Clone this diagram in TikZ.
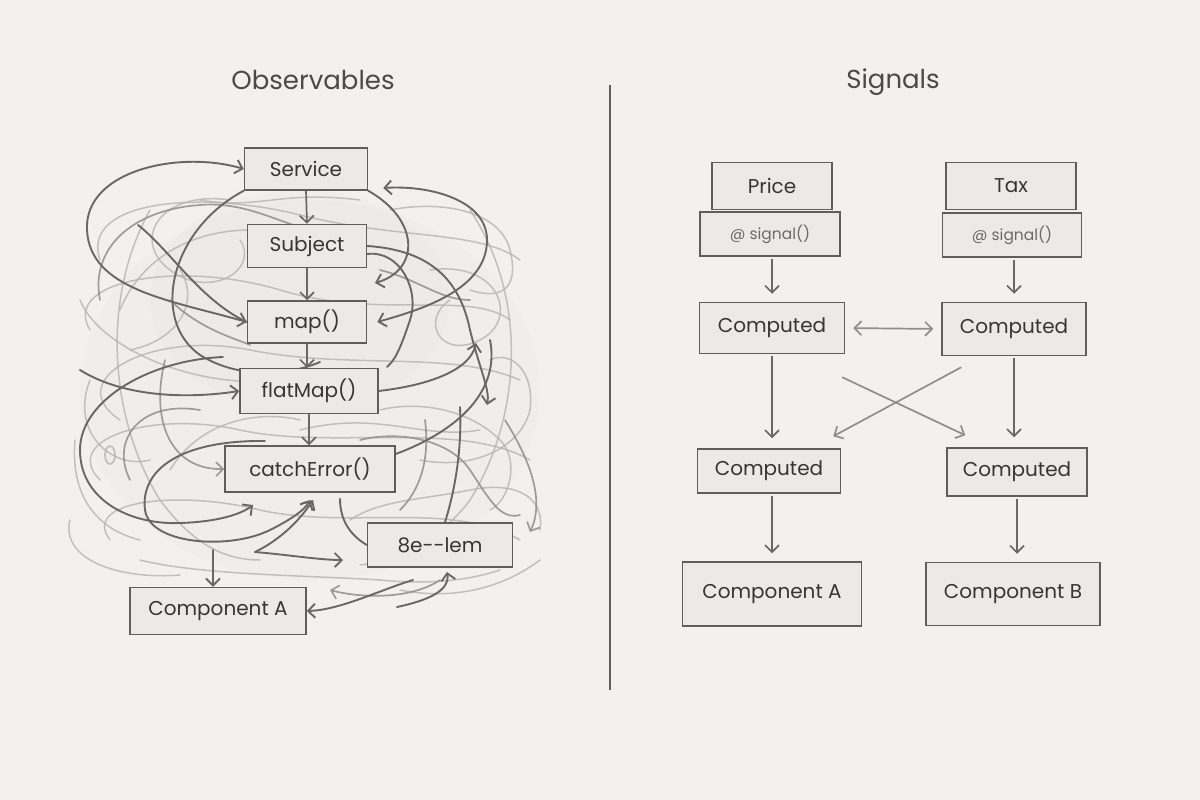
\documentclass[tikz,border=0pt]{standalone}
\usepackage{fontspec}
\setmainfont{Poppins}
\usetikzlibrary{arrows.meta,calc}
\definecolor{bgc}{HTML}{F2F1EE}
\definecolor{boxfill}{HTML}{EBEAE7}
\definecolor{boxline}{HTML}{5E5E5E}
\definecolor{txt}{HTML}{363636}
\definecolor{dkc}{HTML}{686868}
\definecolor{mdc}{HTML}{8E8E8E}
\definecolor{ltc}{HTML}{B4B4B4}
\pgfdeclarelayer{bottomlayer}
\pgfdeclarelayer{tanglelayer}
\pgfsetlayers{bottomlayer,tanglelayer,main}
\tikzset{
  box/.style={draw=boxline, fill=boxfill, line width=1.5pt, text=txt, inner sep=2pt,
    font=\fontsize{20}{23}\selectfont},
  sigbox/.style={box, text=mdc!75!black, font=\fontsize{15.5}{18}\selectfont},
  ttl/.style={text=txt!90, font=\fontsize{26}{30}\selectfont},
  barb/.tip={Straight Barb[length=7pt,width=14pt]},
  arr/.style={draw=dkc, line width=1.7pt, -barb},
  darr/.style={draw=mdc, line width=1.7pt, barb-barb},
  dk/.style={draw=dkc, line width=1.9pt, line cap=round},
  md/.style={draw=mdc, line width=1.7pt, line cap=round, opacity=0.85},
  lt/.style={draw=ltc, line width=1.5pt, line cap=round, opacity=0.8},
  tip/.style={-barb},
  tips/.style={barb-barb}
}
\begin{document}
\begin{tikzpicture}[x=1pt,y=-1pt]
\begin{pgfonlayer}{bottomlayer}
\fill[bgc] (0,0) rectangle (1200,800);
\fill[gray, opacity=0.025] (310,390) ellipse (230pt and 190pt);
\fill[gray, opacity=0.02] (300,300) ellipse (150pt and 110pt);
\end{pgfonlayer}
\useasboundingbox (0,0) rectangle (1200,800);

% titles
\node[ttl] (tobs) at (313,80) {Observables};
\node[ttl] (tsig) at (893,82) {Signals};
\coordinate (divtop) at (610,85);
\coordinate (divbot) at (610,690);
\draw[draw=boxline, line width=1.6pt] (divtop) -- (divbot);

% ---------- left nodes ----------
\node[box, minimum width=123pt, minimum height=42pt] (service) at (306,169) {Service};
\node[box, minimum width=119pt, minimum height=43pt] (subject) at (307,246) {Subject};
\node[box, minimum width=119pt, minimum height=42pt] (map) at (307,322) {map()};
\node[box, minimum width=138pt, minimum height=45pt] (flatmap) at (309,391) {flatMap()};
\node[box, minimum width=170pt, minimum height=46pt] (catcherr) at (310,469) {catchError()};
\node[box, minimum width=145pt, minimum height=44pt] (problem) at (440,545) {8e{-}{-}lem};
\node[box, minimum width=176pt, minimum height=47pt] (compA) at (218,611) {Component A};

\draw[arr] (service.south) -- (subject.north);
\draw[arr] (subject.south) -- (map.north);
\draw[arr] (map.south) -- (map.south |- flatmap.north);
\draw[arr] (flatmap.south) -- (flatmap.south |- catcherr.north);

% ---------- right nodes ----------
\node[box, minimum width=120pt, minimum height=47pt] (price) at (772,186) {Price};
\node[sigbox, minimum width=140pt, minimum height=44pt] (sigL) at (770,234) {@ signal()};
\node[box, minimum width=130pt, minimum height=47pt] (tax) at (1011,186) {Tax};
\node[sigbox, minimum width=139pt, minimum height=44pt] (sigR) at (1012,235) {@ signal()};
\node[box, minimum width=145pt, minimum height=51pt] (compL) at (772,328) {Computed};
\node[box, minimum width=144pt, minimum height=53pt] (compR) at (1014,329) {Computed};
\node[box, minimum width=143pt, minimum height=44pt] (compLL) at (769,471) {Computed};
\node[box, minimum width=140pt, minimum height=48pt] (compRR) at (1017,472) {Computed};
\node[box, minimum width=179pt, minimum height=64pt] (compA2) at (772,594) {Component A};
\node[box, minimum width=174pt, minimum height=63pt] (compB) at (1013,594) {Component B};

\draw[arr, shorten <=2pt, shorten >=8pt] (sigL.south -| compL.north) -- (compL.north);
\draw[arr, shorten <=2pt, shorten >=8pt] (sigR.south -| compR.north) -- (compR.north);
\draw[darr, shorten <=8pt, shorten >=8pt] (compL.east) -- (compR.west);
\draw[arr, shorten <=2pt, shorten >=10pt] (compL.south) -- (compL.south |- compLL.north);
\draw[arr, shorten <=2pt, shorten >=10pt] (compR.south) -- (compR.south |- compRR.north);
\draw[arr, draw=mdc] ($(compL.south east)+(-3,23)$) -- ($(compRR.north west)+(19,-12)$);
\draw[arr, draw=mdc] ($(compR.south west)+(20,11)$) -- ($(compLL.north east)+(-8,-12)$);
\draw[arr, shorten <=2pt, shorten >=8pt] (compLL.south -| compL.south) -- (compA2.north -| compL.south);
\draw[arr, shorten <=2pt, shorten >=8pt] (compRR.south) -- (compRR.south |- compB.north);

% ---------- tangle (behind nodes) ----------
\begin{pgfonlayer}{tanglelayer}
% light
\draw[lt] (100,260) .. controls (80,200) and (200,190) .. (300,215) .. controls (400,240) and (480,230) .. (520,260);
\draw[lt] (90,330) .. controls (60,280) and (180,260) .. (280,290) .. controls (380,320) and (470,290) .. (510,320);
\draw[lt] (120,420) .. controls (60,380) and (150,330) .. (250,350) .. controls (350,370) and (450,350) .. (520,380);
\draw[lt] (100,480) .. controls (60,440) and (150,410) .. (240,430) .. controls (330,450) and (460,420) .. (530,460);
\draw[lt] (110,540) .. controls (80,500) and (180,490) .. (260,510) .. controls (350,530) and (450,500) .. (520,540);
\draw[lt] (150,210) .. controls (100,300) and (110,420) .. (160,500) .. controls (190,540) and (220,560) .. (260,560);
\draw[lt] (470,210) .. controls (530,300) and (520,420) .. (470,500) .. controls (440,540) and (400,560) .. (360,565);
\draw[lt] (230,200) .. controls (160,190) and (130,240) .. (170,270) .. controls (210,300) and (260,270) .. (240,240);
\draw[lt] (430,270) .. controls (500,260) and (520,320) .. (480,340) .. controls (440,360) and (420,320) .. (450,300);
\draw[lt] (90,380) .. controls (70,430) and (110,470) .. (150,460);
\draw[lt] (300,430) .. controls (380,410) and (420,440) .. (480,430);
\draw[lt] (80,300) .. controls (100,350) and (200,390) .. (280,380);
\draw[lt] (200,200) .. controls (260,210) and (280,190) .. (360,200);
\draw[lt] (350,520) .. controls (380,500) and (420,500) .. (470,490) .. controls (520,480) and (545,500) .. (540,530);
\draw[lt] (140,560) .. controls (200,575) and (300,575) .. (380,580) .. controls (430,585) and (470,580) .. (500,570);
\draw[lt] (120,310) .. controls (140,260) and (190,230) .. (250,230);
\draw[lt] (380,410) .. controls (420,400) and (470,410) .. (500,440) .. controls (520,460) and (510,500) .. (490,510);
\draw[lt] (75,440) .. controls (70,500) and (100,530) .. (140,540);
\draw[lt] (390,210) .. controls (440,200) and (500,210) .. (510,250) .. controls (520,290) and (500,300) .. (470,290);
\draw[lt] (130,350) .. controls (180,340) and (200,300) .. (180,270);
\draw[lt] (420,460) .. controls (470,470) and (520,450) .. (530,410) .. controls (535,370) and (510,350) .. (490,360);
\draw[lt] (170,470) .. controls (200,420) and (260,410) .. (300,420);
\draw[lt] (70,520) .. controls (60,560) and (120,580) .. (180,575);
\draw[lt] (400,590) .. controls (450,600) and (500,590) .. (540,560);
\draw[lt, line width=1.7pt] (110,455) ellipse (5pt and 9pt);
% medium
\draw[md,tip] (165,360) .. controls (150,420) and (170,470) .. (catcherr.west);
\draw[md] (100,300) .. controls (90,250) and (130,210) .. (200,205) .. controls (260,200) and (300,240) .. (340,230);
\draw[md] (130,480) .. controls (110,440) and (140,400) .. (200,410);
\draw[md] (360,440) .. controls (400,430) and (450,440) .. (470,470) .. controls (490,500) and (500,520) .. (520,515);
\draw[md,tip] (505,420) .. controls (530,460) and (545,500) .. (530,532);
\draw[md] (400,510) .. controls (420,490) and (430,460) .. (425,420);
\draw[md,tip] (440,580) .. controls (410,600) and (360,598) .. (330,590);
\draw[md] (170,300) .. controls (200,330) and (240,340) .. (250,345);
\draw[md] (380,270) .. controls (420,280) and (440,300) .. (470,300);
% dark
\draw[dk,tips] (map.west) .. controls (170,300) and (90,290) .. (87,230) .. controls (84,170) and (180,150) .. (service.west);
\draw[dk] (138,225) .. controls (170,250) and (200,300) .. (map.west);
\draw[dk] (service.south west) .. controls (170,230) and (150,320) .. (200,355) .. controls (240,380) and (290,375) .. (320,362);
\draw[dk,tip] (service.south east) .. controls (420,220) and (420,270) .. (375,283);
\draw[dk,tip] (subject.east) .. controls (430,250) and (460,280) .. (470,330) .. controls (480,370) and (490,390) .. (487,405);
\draw[dk] ($(subject.east)+(0,8)$) .. controls (400,250) and (420,290) .. (410,320) .. controls (400,350) and (395,360) .. (387,367);
\draw[dk,tips] ($(map.east)+(10,0)$) .. controls (420,310) and (487,290) .. (487,240) .. controls (487,200) and (430,185) .. ($(service.east)+(15,19)$);
\draw[dk,tip] (flatmap.east) .. controls (430,385) and (470,370) .. (476,343);
\draw[dk] ($(catcherr.east)+(0,-15)$) .. controls (460,430) and (500,390) .. (490,340);
\draw[dk,tip] (80,370) .. controls (120,395) and (180,400) .. (flatmap.west);
\draw[dk,tip] (223,357) .. controls (150,360) and (80,400) .. (80,450) .. controls (80,500) and (130,525) .. (180,523) .. controls (215,522) and (240,515) .. (253,505);
\draw[dk,tip] (265,441) .. controls (180,440) and (140,470) .. (145,510) .. controls (150,545) and (230,550) .. (270,530) .. controls (290,520) and (305,510) .. (310,500);
\draw[dk,tip] (255,552) .. controls (280,540) and (300,520) .. (313,500);
\draw[dk] ($(catcherr.south)+(30,6)$) .. controls (340,520) and (350,535) .. (problem.west);
\draw[dk,tip] (255,552) .. controls (290,555) and (320,560) .. (343,560);
\draw[dk,tip] (413,580) .. controls (380,590) and (340,610) .. (compA.east);
\draw[dk,tip] (397,607) .. controls (430,600) and (450,590) .. (447,572);
\draw[dk,tip] (213,550) -- (compA.north -| 213,0);
\draw[dk] ($(problem.north)+(5,0)$) .. controls (455,490) and (462,450) .. (460,407);
\end{pgfonlayer}
\end{tikzpicture}
\end{document}
